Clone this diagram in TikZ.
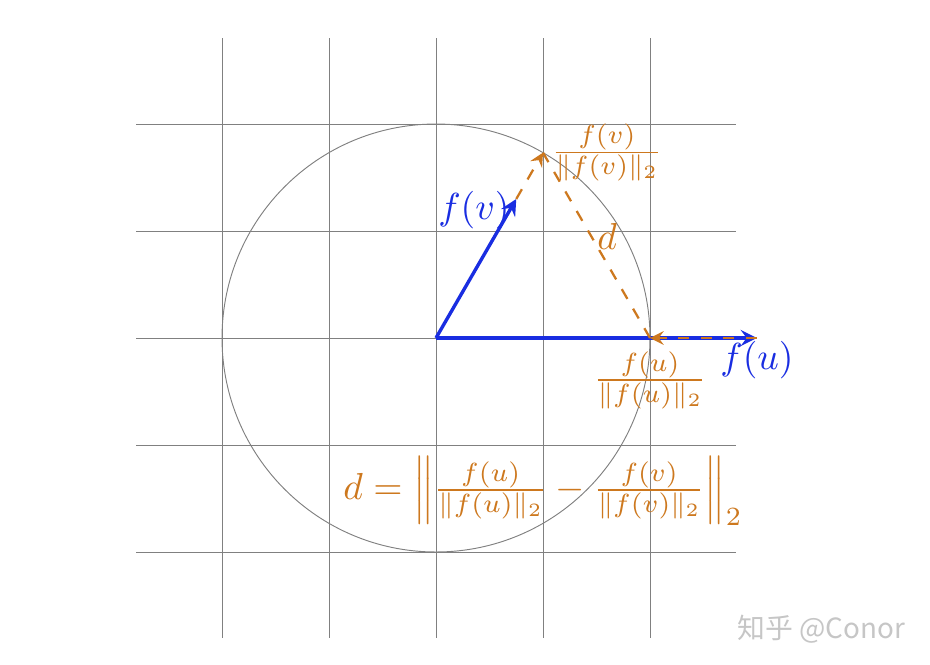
\documentclass[tikz,border=0pt]{standalone}
\usepackage{amsmath}
\usepackage{amssymb}
\usepackage{fontspec}
\newfontfamily\cjk{Noto Sans CJK SC}
\definecolor{vecblue}{RGB}{25,45,225}
\definecolor{normorange}{RGB}{205,120,30}

\begin{document}
\begin{tikzpicture}[every node/.style={normorange}]
	\useasboundingbox (-4.075,-3.047) rectangle (4.617,3.159);
	\draw[gray,line width=0.25pt] (-2.8,-2.8) grid (2.8,2.8);
	\draw[gray,line width=0.25pt] (0,0) circle (2);

	\coordinate (O) at (0,0);
	\coordinate (U) at (3,0);
	\coordinate (V) at (60:1.5);
	\coordinate (A) at (2,0);
	\coordinate (B) at (60:2);

	\draw[vecblue,line width=0.9pt,-stealth] (O) -- (U) node[below=-3pt,vecblue] {$f(u)$};
	\draw[vecblue,line width=0.9pt,-stealth] (O) -- (V) node[left=-2pt,yshift=-1mm,vecblue] {$f(v)$};

	\draw[normorange,semithick,dashed,-stealth] (U) -- (A) node[below] {$\frac{f(u)}{\|f(u)\|_2}$};
	\draw[normorange,semithick,dashed,-stealth] (V) -- (B) node[right=-1.5pt] {$\frac{f(v)}{\|f(v)\|_2}$};
	\draw[normorange,semithick,dashed] (A) -- (B) node[pos=0.55,right=-2pt] {$d$};

	\node (D) at (1,-1.43) {$d = \left\| \frac{f(u)}{\|f(u)\|_2} - \frac{f(v)}{\|f(v)\|_2} \right\|_2$};

	\node[gray!45] (W) at (3.6,-2.72) {\cjk\fontsize{7.4}{9}\selectfont 知乎 @Conor};
\end{tikzpicture}
\end{document}
